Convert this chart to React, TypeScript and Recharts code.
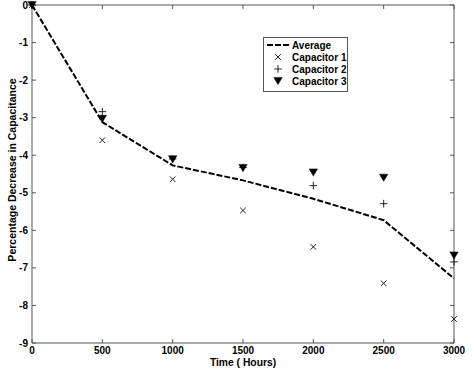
import React from 'react';
import { ComposedChart, Line, Scatter, XAxis, YAxis } from 'recharts';

// values
const hours = [0, 500, 1000, 1500, 2000, 2500, 3000];
const average = [0, -3.12, -4.27, -4.67, -5.16, -5.73, -7.28];
const capacitor1 = [0, -3.6, -4.64, -5.47, -6.44, -7.41, -8.36];
const capacitor2 = [0, -2.84, -4.1, -4.33, -4.81, -5.29, -6.84];
const capacitor3 = [0, -3.03, -4.11, -4.34, -4.46, -4.6, -6.67];

const xTicks = [0, 500, 1000, 1500, 2000, 2500, 3000];
const yTicks = [0, -1, -2, -3, -4, -5, -6, -7, -8, -9];

const FONT = '"Liberation Sans", Arial, Helvetica, sans-serif';
const AXIS = '#555';
const MARK = '#222';

const data = hours.map((h, i) => ({
  hours: h,
  average: average[i],
  capacitor1: capacitor1[i],
  capacitor2: capacitor2[i],
  capacitor3: capacitor3[i]
}));

const CrossMark = (props: any) => {
  const { cx, cy } = props;
  const s = 2.8;
  return (
    <g stroke={MARK} strokeWidth={1}>
      <line x1={cx - s} y1={cy - s} x2={cx + s} y2={cy + s} />
      <line x1={cx - s} y1={cy + s} x2={cx + s} y2={cy - s} />
    </g>
  );
};

const PlusMark = (props: any) => {
  const { cx, cy } = props;
  const s = 3.8;
  return (
    <g stroke={MARK} strokeWidth={1}>
      <line x1={cx - s} y1={cy} x2={cx + s} y2={cy} />
      <line x1={cx} y1={cy - s} x2={cx} y2={cy + s} />
    </g>
  );
};

const TriangleMark = (props: any) => {
  const { cx, cy } = props;
  return (
    <polygon
      points={`${cx - 4.2},${cy - 3.6} ${cx + 4.2},${cy - 3.6} ${cx},${cy + 3.6}`}
      fill="#000"
      stroke="#000"
      strokeWidth={0.5}
    />
  );
};

const NoMark = () => <g />;

const tickStyle = { fill: '#000', fontSize: 10, fontWeight: 700, fontFamily: FONT };

function LegendBox() {
  const rowY = [45, 57, 69, 81];
  const labels = ['Average', 'Capacitor 1', 'Capacitor 2', 'Capacitor 3'];
  return (
    <svg
      width={474}
      height={369}
      style={{ position: 'absolute', left: 0, top: 0, pointerEvents: 'none' }}
    >
      <rect x={263.5} y={37.5} width={84} height={54} fill="#fff" stroke={AXIS} strokeWidth={1} />
      <line x1={267} y1={rowY[0]} x2={289} y2={rowY[0]} stroke="#000" strokeWidth={2} strokeDasharray="6 2" />
      <CrossMark cx={278} cy={rowY[1]} />
      <PlusMark cx={278} cy={rowY[2]} />
      <TriangleMark cx={278} cy={rowY[3]} />
      {labels.map((label, i) => (
        <text
          key={label}
          x={292}
          y={rowY[i] + 3.6}
          fontSize={10}
          fontWeight={700}
          fontFamily={FONT}
          fill="#000"
        >
          {label}
        </text>
      ))}
    </svg>
  );
}

export default function App() {
  return (
    <div style={{ position: 'absolute', left: 0, top: 0, width: 474, height: 369, background: '#fff' }}>
      <ComposedChart
        width={474}
        height={369}
        data={data}
        margin={{ top: 4, right: 19, left: 0, bottom: 0 }}
      >
        <XAxis
          dataKey="hours"
          type="number"
          domain={[0, 3000]}
          ticks={xTicks}
          interval={0}
          height={26}
          tickSize={-4}
          tickMargin={8}
          tick={tickStyle}
          axisLine={{ stroke: AXIS }}
          tickLine={{ stroke: AXIS }}
          label={{
            value: 'Time ( Hours)',
            position: 'insideBottom',
            offset: 3,
            fill: '#000',
            fontSize: 10.3,
            fontWeight: 700,
            fontFamily: FONT
          }}
        />
        <XAxis
          xAxisId="top"
          orientation="top"
          dataKey="hours"
          type="number"
          domain={[0, 3000]}
          ticks={xTicks}
          interval={0}
          height={1}
          tickSize={-4}
          tickMargin={0}
          tickFormatter={() => ''}
          axisLine={{ stroke: AXIS }}
          tickLine={{ stroke: AXIS }}
        />
        <YAxis
          type="number"
          domain={[-9, 0]}
          ticks={yTicks}
          interval={0}
          width={32}
          tickSize={-4}
          tickMargin={8}
          tick={tickStyle}
          axisLine={{ stroke: AXIS }}
          tickLine={{ stroke: AXIS }}
          label={{
            value: 'Percentage Decrease in Capacitance',
            angle: -90,
            position: 'insideLeft',
            offset: 0,
            dx: 12.5,
            dy: -4,
            fill: '#000',
            fontSize: 10.5,
            fontWeight: 700,
            fontFamily: FONT,
            style: { textAnchor: 'middle' }
          }}
        />
        <YAxis
          yAxisId="right"
          orientation="right"
          type="number"
          domain={[-9, 0]}
          ticks={yTicks}
          interval={0}
          width={1}
          tickSize={-4}
          tickMargin={0}
          tickFormatter={() => ''}
          axisLine={{ stroke: AXIS }}
          tickLine={{ stroke: AXIS }}
        />
        <Line
          type="linear"
          dataKey="average"
          stroke="#000"
          strokeWidth={2}
          strokeDasharray="6 2"
          dot={false}
          isAnimationActive={false}
        />
        <Scatter dataKey="capacitor1" shape={CrossMark} isAnimationActive={false} />
        <Scatter dataKey="capacitor2" shape={PlusMark} isAnimationActive={false} />
        <Scatter dataKey="capacitor3" shape={TriangleMark} isAnimationActive={false} />
        <Scatter
          xAxisId="top"
          yAxisId="right"
          dataKey="average"
          shape={NoMark}
          isAnimationActive={false}
        />
      </ComposedChart>
      <LegendBox />
    </div>
  );
}
